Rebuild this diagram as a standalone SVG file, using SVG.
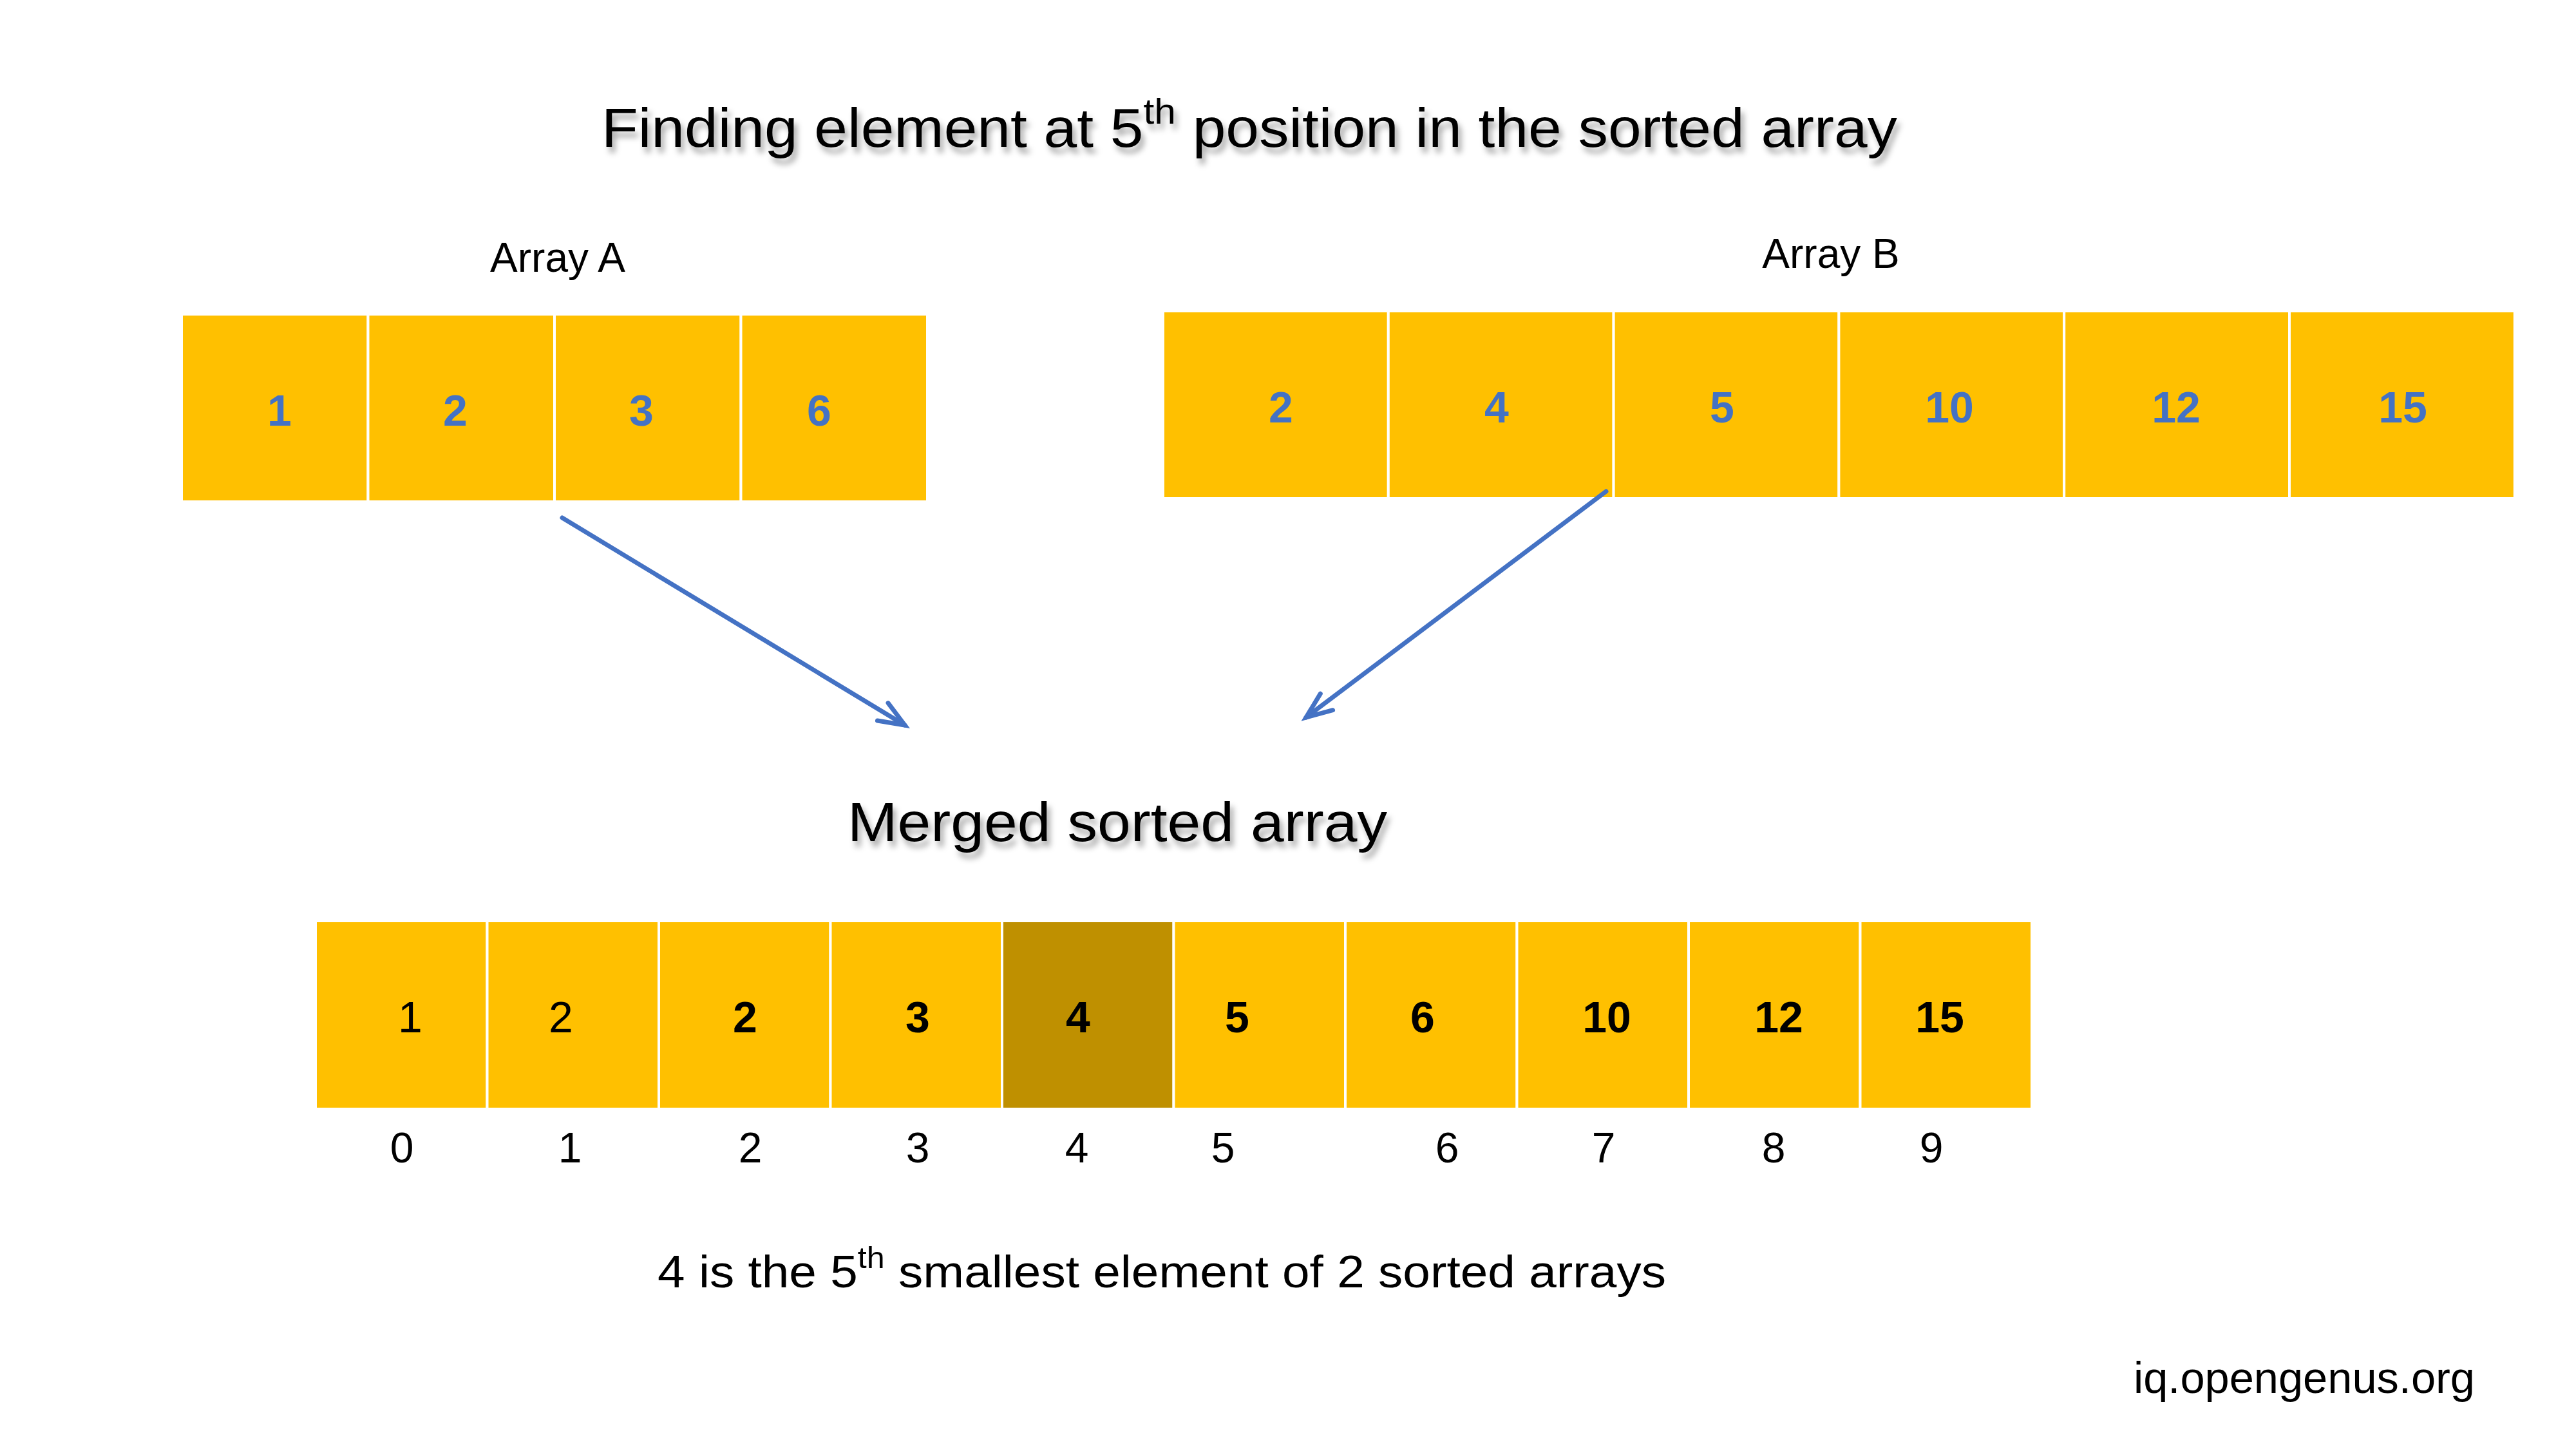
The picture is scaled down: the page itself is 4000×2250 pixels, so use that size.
<svg xmlns="http://www.w3.org/2000/svg" width="4000" height="2250" viewBox="0 0 4000 2250">
<defs>
<style>
text{font-family:"Liberation Sans",Arial,sans-serif;fill:#000}
.cell{fill:#FFC000;stroke:#FFFFFF;stroke-width:4}
.hl{fill:#BF9000}
.bd{font-weight:bold;font-size:68px;text-anchor:middle;fill:#4472C4}
.md{font-weight:bold;font-size:68px;text-anchor:middle}
.mr{font-size:68px;text-anchor:middle}
.idx{font-size:66px;text-anchor:middle}
.lbl{font-size:64px;text-anchor:middle}
.big{font-size:86px}
.conn{stroke:#4472C4;stroke-width:7;fill:none;stroke-linecap:round}
</style>
<filter id="sh" x="-5%" y="-30%" width="110%" height="170%">
<feDropShadow dx="5" dy="9" stdDeviation="5" flood-color="#000" flood-opacity="0.35"/>
</filter>
<marker id="arr" markerUnits="userSpaceOnUse" markerWidth="80" markerHeight="80" viewBox="-60 -40 80 80" refX="0" refY="0" orient="auto" overflow="visible">
<path d="M-40,-16 L0,0 L-40,16" fill="none" stroke="#4472C4" stroke-width="7" stroke-linecap="round" stroke-linejoin="miter"/>
</marker>
</defs>
<rect width="4000" height="2250" fill="#FFFFFF"/>

<g id="title">
<text class="big" x="934" y="228" textLength="2012" lengthAdjust="spacingAndGlyphs" filter="url(#sh)">Finding element at 5<tspan font-size="56" dy="-36">th</tspan><tspan dy="36"> position in the sorted array</tspan></text>
</g>

<g id="arrayA">
<text class="lbl" x="866" y="422">Array A</text>
<g id="A0"><rect class="cell" x="282" y="488" width="289.5" height="291"/><text class="bd" x="434" y="661">1</text></g>
<g id="A1"><rect class="cell" x="571.5" y="488" width="289.5" height="291"/><text class="bd" x="707" y="661">2</text></g>
<g id="A2"><rect class="cell" x="861" y="488" width="289.5" height="291"/><text class="bd" x="996" y="661">3</text></g>
<g id="A3"><rect class="cell" x="1150.5" y="488" width="289.5" height="291"/><text class="bd" x="1272" y="661">6</text></g>
</g>

<g id="arrayB">
<text class="lbl" x="2843" y="416">Array B</text>
<g id="B0"><rect class="cell" x="1806" y="483" width="349.8" height="291"/><text class="bd" x="1989" y="656">2</text></g>
<g id="B1"><rect class="cell" x="2155.8" y="483" width="349.8" height="291"/><text class="bd" x="2324" y="656">4</text></g>
<g id="B2"><rect class="cell" x="2505.6" y="483" width="349.8" height="291"/><text class="bd" x="2674" y="656">5</text></g>
<g id="B3"><rect class="cell" x="2855.4" y="483" width="349.8" height="291"/><text class="bd" x="3027" y="656">10</text></g>
<g id="B4"><rect class="cell" x="3205.2" y="483" width="349.8" height="291"/><text class="bd" x="3379" y="656">12</text></g>
<g id="B5"><rect class="cell" x="3555" y="483" width="349.8" height="291"/><text class="bd" x="3731" y="656">15</text></g>
</g>

<g id="connectors">
<path class="conn" d="M873,804 L1405,1126" marker-end="url(#arr)"/>
<path class="conn" d="M2494,763 L2028,1114" marker-end="url(#arr)"/>
</g>

<g id="mergedLabel">
<text class="big" x="1316" y="1306" textLength="838" lengthAdjust="spacingAndGlyphs" filter="url(#sh)">Merged sorted array</text>
</g>

<g id="merged">
<g id="M0"><rect class="cell" x="490" y="1430" width="266.5" height="292"/><text class="mr" x="637" y="1603">1</text><text class="idx" x="624" y="1805">0</text></g>
<g id="M1"><rect class="cell" x="756.5" y="1430" width="266.5" height="292"/><text class="mr" x="871" y="1603">2</text><text class="idx" x="885" y="1805">1</text></g>
<g id="M2"><rect class="cell" x="1023" y="1430" width="266.5" height="292"/><text class="md" x="1157" y="1603">2</text><text class="idx" x="1165" y="1805">2</text></g>
<g id="M3"><rect class="cell" x="1289.5" y="1430" width="266.5" height="292"/><text class="md" x="1425" y="1603">3</text><text class="idx" x="1425" y="1805">3</text></g>
<g id="M4"><rect class="cell hl" x="1556" y="1430" width="266.5" height="292"/><text class="md" x="1674" y="1603">4</text><text class="idx" x="1672" y="1805">4</text></g>
<g id="M5"><rect class="cell" x="1822.5" y="1430" width="266.5" height="292"/><text class="md" x="1921" y="1603">5</text><text class="idx" x="1899" y="1805">5</text></g>
<g id="M6"><rect class="cell" x="2089" y="1430" width="266.5" height="292"/><text class="md" x="2209" y="1603">6</text><text class="idx" x="2247" y="1805">6</text></g>
<g id="M7"><rect class="cell" x="2355.5" y="1430" width="266.5" height="292"/><text class="md" x="2495" y="1603">10</text><text class="idx" x="2490" y="1805">7</text></g>
<g id="M8"><rect class="cell" x="2622" y="1430" width="266.5" height="292"/><text class="md" x="2762" y="1603">12</text><text class="idx" x="2754" y="1805">8</text></g>
<g id="M9"><rect class="cell" x="2888.5" y="1430" width="266.5" height="292"/><text class="md" x="3012" y="1603">15</text><text class="idx" x="2999" y="1805">9</text></g>
</g>

<g id="caption">
<text x="1021" y="1999" font-size="70" textLength="1566" lengthAdjust="spacingAndGlyphs">4 is the 5<tspan font-size="46" dy="-30">th</tspan><tspan dy="30"> smallest element of 2 sorted arrays</tspan></text>
</g>

<g id="watermark">
<text x="3313" y="2163" font-size="68" textLength="530" lengthAdjust="spacingAndGlyphs">iq.opengenus.org</text>
</g>
</svg>
